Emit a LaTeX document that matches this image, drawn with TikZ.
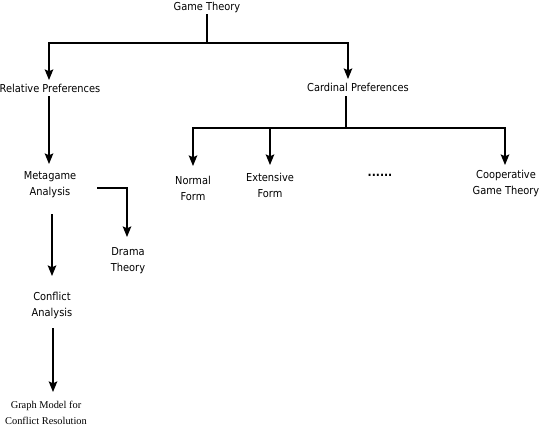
\documentclass[tikz,border=0pt]{standalone}
\usepackage{fontspec}
\setmainfont{DejaVu Sans Condensed}
\newfontfamily\serifgm{Liberation Serif}
\usetikzlibrary{arrows.meta}
\begin{document}
\begin{tikzpicture}[x=0.75pt,y=-0.75pt,
  lbl/.style={inner sep=0pt,align=center,font=\fontsize{8.2}{12}\selectfont},
  conn/.style={line width=0.9pt},
  arr/.style={conn,-{Stealth[length=8pt,width=6.5pt,inset=1.5pt]}}]
\useasboundingbox (0,0) rectangle (540,425);
\node[lbl] (gt) at (207,7) {Game Theory};
\node[lbl] (rp) at (50,88) {Relative Preferences};
\node[lbl] (cp) at (358,87) {Cardinal Preferences};
\node[lbl] (mg) at (50,185) {Metagame\\Analysis};
\node[lbl] (dt) at (128,261) {Drama\\Theory};
\node[lbl] (ca) at (52,305) {Conflict\\Analysis};
\node[lbl,font=\serifgm\fontsize{7.8}{12}\selectfont] (gm) at (46,413) {Graph Model for\\Conflict Resolution};
\node[lbl] (nf) at (193,188) {Normal\\Form};
\node[lbl] (ef) at (270,185) {Extensive\\Form};
\node[lbl,font=\bfseries\fontsize{9}{11}\selectfont] (dots) at (380,175) {......};
\node[lbl] (cg) at (506,183) {Cooperative\\Game Theory};
% connectors
\coordinate (gtb) at (207,14);
\coordinate (j1) at (207,43);
\draw[conn] (gtb) -- (j1);
\draw[arr] (j1) -| (49,80) coordinate (rpt);
\draw[arr] (j1) -| (348,79) coordinate (cpt);
\coordinate (cpb) at (346,96);
\coordinate (j2) at (346,128);
\draw[conn] (cpb) -- (j2);
\draw[arr] (j2) -| (193,166) coordinate (nft);
\draw[arr] (j2) -| (270,165) coordinate (eft);
\draw[arr] (j2) -| (505,165) coordinate (cgt);
\draw[arr] (49,96) coordinate (rpb) -- (49,164) coordinate (mgt);
\draw[arr] (97,188) coordinate (mgr) -| (127,237) coordinate (dtt);
\draw[arr] (52,214) coordinate (mgb) -- (52,276) coordinate (cat);
\draw[arr] (53,328) coordinate (cab) -- (53,392) coordinate (gmt);
\end{tikzpicture}
\end{document}
